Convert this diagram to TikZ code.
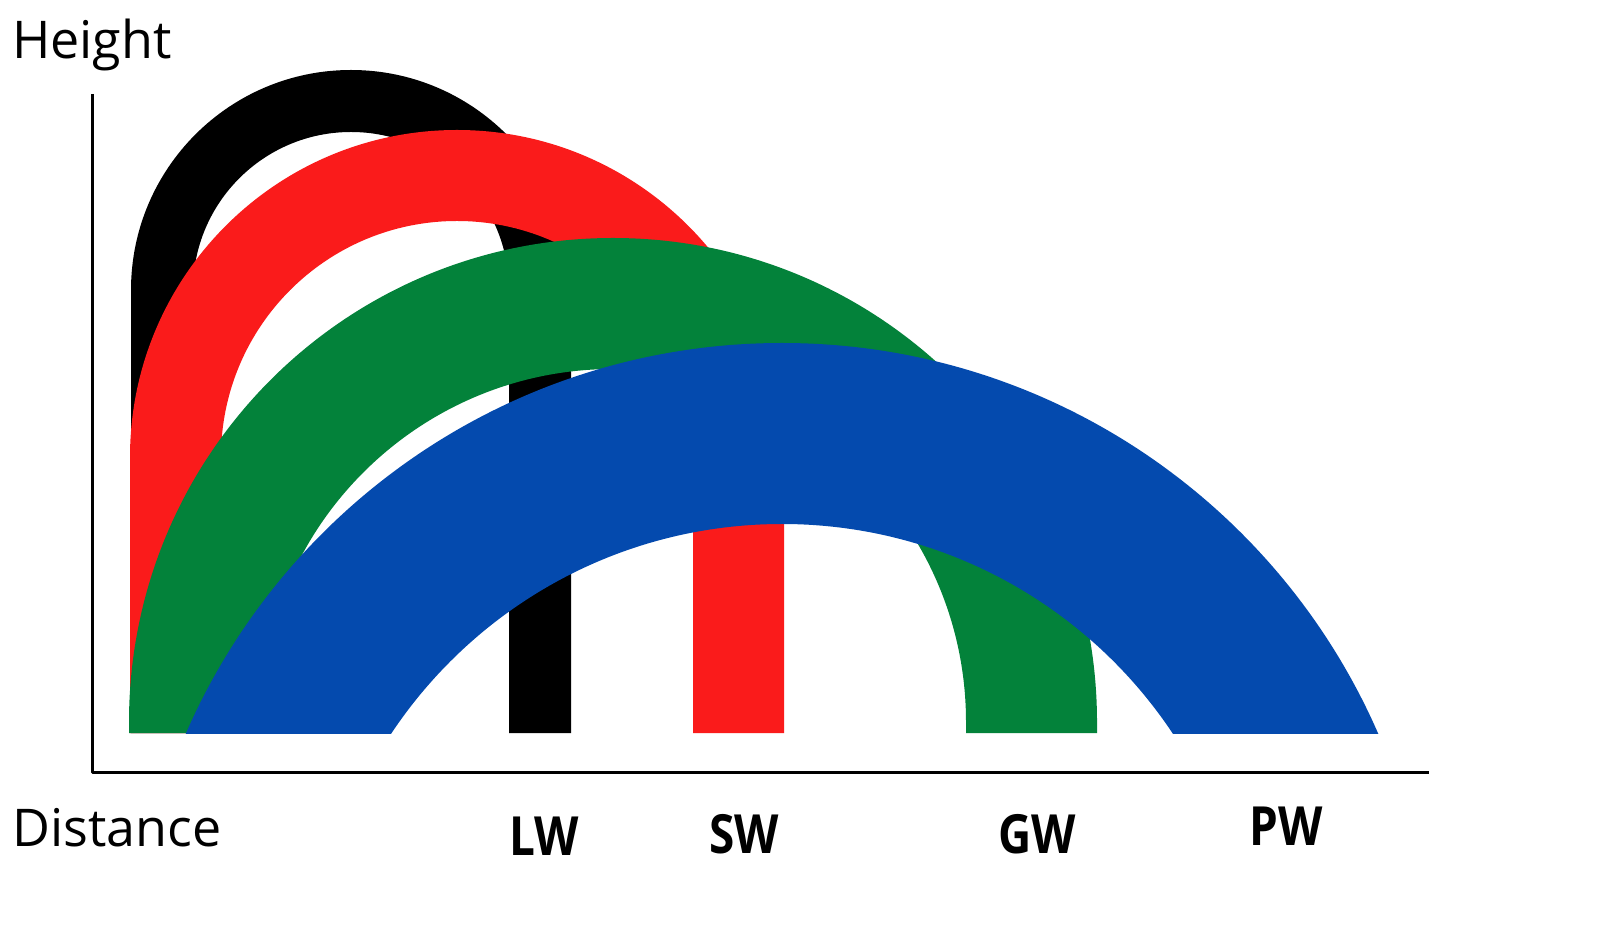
\documentclass[tikz,border=0pt]{standalone}
\usepackage{fontspec}
\setmainfont{Open Sans}
\newfontfamily\tagfont[FakeStretch=0.85]{Open Sans}
\usepackage{tikz}
\definecolor{lwblack}{HTML}{000000}
\definecolor{swred}{HTML}{FA1B1B}
\definecolor{gwgreen}{HTML}{03823A}
\definecolor{pwblue}{HTML}{044AAE}

\begin{document}
\begin{tikzpicture}[x=1pt,y=1pt,
	axis/.style={line width=3pt,line join=round},
	axislabel/.style={inner sep=0pt,anchor=base west,font=\fontsize{52}{60}\selectfont},
	club/.style={inner sep=0pt,anchor=base,font=\tagfont\bfseries\fontsize{54}{60}\selectfont}]
	\useasboundingbox (0,0) rectangle (1600,924);
	% lob wedge
	\fill[lwblack] (131,191) -- (131,634) arc[start angle=180,end angle=0,radius=220] -- (571,191) -- (509,191) -- (509,634) arc[start angle=0,end angle=180,radius=158] -- (193,191) -- cycle;
	% sand wedge
	\fill[swred] (130,191) -- (130,467) arc[start angle=180,end angle=0,radius=327] -- (784,191) -- (693,191) -- (693,467) arc[start angle=0,end angle=180,radius=236] -- (221,191) -- cycle;
	% gap wedge
	\fill[gwgreen] (129,191) -- (129,202) arc[start angle=180,end angle=0,radius=484] -- (1097,191) -- (966,191) -- (966,202) arc[start angle=0,end angle=180,radius=353] -- (260,191) -- cycle;
	% pitching wedge
	\begin{scope}
		\clip (0,191) rectangle (1600,924);
		\fill[pwblue,even odd rule] (782,-69) circle[radius=650] (782,-69) circle[radius=469];
	\end{scope}
	% axes
	\coordinate (origin) at (92,152);
	\coordinate (ytop) at (92,830);
	\coordinate (xend) at (1429,152);
	\draw[axis] (ytop) -- (origin) -- (xend);
	\node[axislabel] (height) at (12,865) {Height};
	\node[axislabel] (distance) at (12,78) {Distance};
	\node[club] (lw) at (544,69) {LW};
	\node[club] (sw) at (744,71) {SW};
	\node[club] (gw) at (1037,71) {GW};
	\node[club] (pw) at (1286,79) {PW};
\end{tikzpicture}
\end{document}
